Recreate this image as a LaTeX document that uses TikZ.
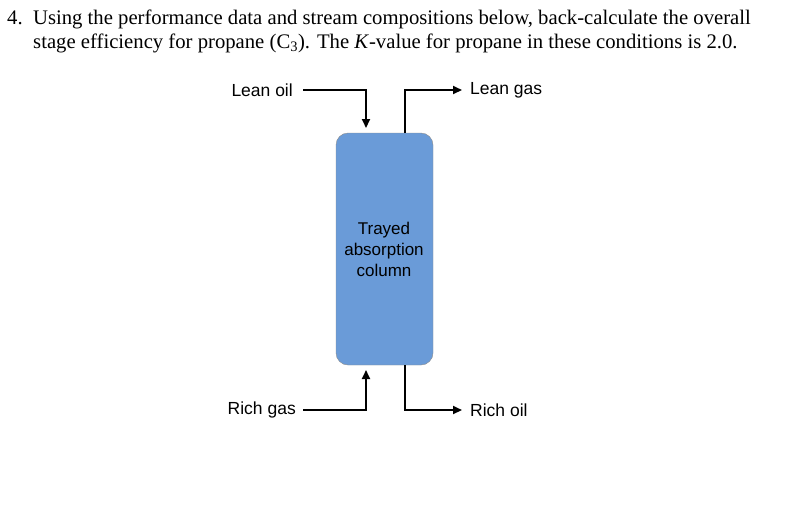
\documentclass[tikz,border=0pt]{standalone}
\usepackage{fontspec}
\setmainfont{Liberation Serif}
\newfontfamily\arialf{Liberation Sans}
\usetikzlibrary{arrows.meta}
\begin{document}
\begin{tikzpicture}[x=1pt,y=-1pt,
  lbl/.style={font=\arialf\fontsize{17.5}{20}\selectfont, inner sep=0pt},
  flow/.style={line width=2pt, -{Triangle[length=9pt,width=8pt]}}]
\useasboundingbox (0,0) rectangle (795,523);
\node[anchor=north west, align=left, inner sep=0pt, font=\fontsize{20.7}{24}\selectfont] (q) at (7,10)
 {4.\ \ Using the performance data and stream compositions below, back-calculate the overall\\
 \hspace{26pt}stage efficiency for propane (C\textsubscript{3}). The \textit{K}-value for propane in these conditions is 2.0.};
\node[draw=black!45, fill={rgb,255:red,106;green,155;blue,216}, rounded corners=12pt, minimum width=97pt, minimum height=232pt, inner sep=0pt] (col) at (384.5,249) {};
\node[lbl, align=center, font=\arialf\fontsize{17}{21}\selectfont] (ct) at (384,249) {Trayed\\absorption\\column};
\node[lbl, anchor=east] (lo) at (293,90) {Lean oil};
\node[lbl, anchor=west] (lg) at (470,90) {Lean gas};
\node[lbl, anchor=east] (rg) at (296,410) {Rich gas};
\node[lbl, anchor=west] (ro) at (470,410) {Rich oil};
\coordinate (a1) at (366,128);
\coordinate (a2) at (405,133);
\coordinate (a3) at (366,370);
\coordinate (a4) at (405,365);
\draw[flow] ([xshift=10pt]lo.east) -| (a1);
\draw[flow] (a2) |- ([xshift=-8pt]lg.west);
\draw[flow] ([xshift=7pt]rg.east) -| (a3);
\draw[flow] (a4) |- ([xshift=-8pt]ro.west);
\end{tikzpicture}
\end{document}
